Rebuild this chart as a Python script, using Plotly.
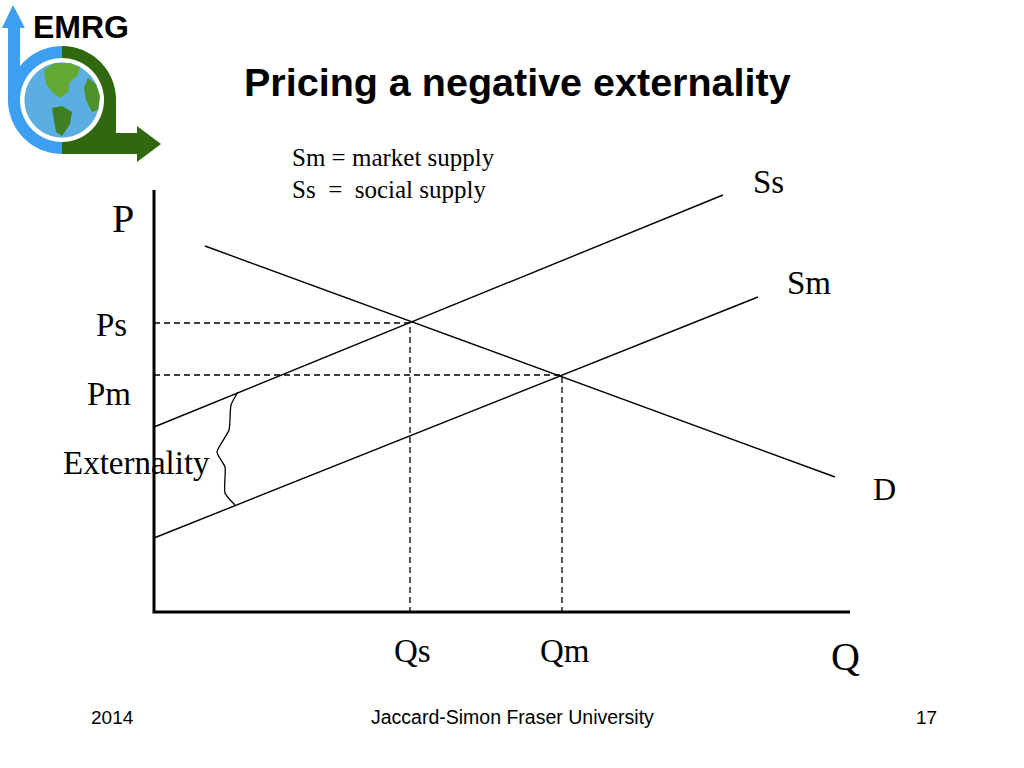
import math
import plotly.graph_objects as go

# ---------------- data (Q, P units) ----------------
axis_q = [0, 0, 696]
axis_p = [422, 0, 0]
demand_q = [51, 681]
demand_p = [366, 135]
social_q = [0, 569]
social_p = [185, 417]
market_q = [0, 604]
market_p = [74, 315]
eq_q = [256, 408]   # Qs, Qm
eq_p = [289, 237]   # Ps, Pm
brace_q = [84, 77, 75, 63, 71, 71, 81]
brace_p = [220, 207, 182, 160, 145, 119, 107]

W, H = 1024, 768
BLACK = "#000000"
BLUE = "#3d9ff0"
GREEN = "#30680f"


def px(x, y):
    return x / W, 1 - y / H


fig = go.Figure()

line_style = dict(color=BLACK, width=1.4)
fig.add_trace(go.Scatter(x=axis_q, y=axis_p, mode="lines",
                         line=dict(color=BLACK, width=3), hoverinfo="skip"))
fig.add_trace(go.Scatter(x=demand_q, y=demand_p, mode="lines", line=line_style, name="D"))
fig.add_trace(go.Scatter(x=social_q, y=social_p, mode="lines", line=line_style, name="Ss"))
fig.add_trace(go.Scatter(x=market_q, y=market_p, mode="lines", line=line_style, name="Sm"))
for q, p in zip(eq_q, eq_p):
    fig.add_trace(go.Scatter(x=[0, q, q], y=[p, p, 0], mode="lines",
                             line=dict(color=BLACK, width=1.3, dash="6px,4px"),
                             hoverinfo="skip"))
fig.add_trace(go.Scatter(x=brace_q, y=brace_p, mode="lines",
                         line=dict(color=BLACK, width=1.3, shape="spline", smoothing=0.6),
                         hoverinfo="skip"))

# ---------------- text ----------------
ann = []


def add_text(text, x, y, size, family="Liberation Serif", xanchor="center", color=BLACK):
    xp, yp = px(x, y)
    ann.append(dict(text=text, x=xp, y=yp, xref="paper", yref="paper",
                    xanchor=xanchor, yanchor="middle", showarrow=False,
                    font=dict(family=family, size=size, color=color)))


add_text("<b>Pricing a negative externality</b>", 517, 82, 39.5, family="Liberation Sans")
add_text("Sm = market supply", 290, 158, 25, xanchor="left")
add_text("Ss  =  social supply", 290, 189, 25, xanchor="left")
add_text("P", 123, 218, 40)
add_text("Ps", 111, 325, 33)
add_text("Pm", 109, 394, 33)
add_text("Externality", 136, 463, 33)
add_text("Qs", 412, 651, 33)
add_text("Qm", 565, 651, 33)
add_text("Q", 845, 656, 40)
add_text("Ss", 768, 182, 33)
add_text("Sm", 809, 283, 33)
add_text("D", 884, 489, 32)
add_text("2014", 112, 717, 19, family="Liberation Sans")
add_text("Jaccard-Simon Fraser University", 512, 717, 19.5, family="Liberation Sans")
add_text("17", 926, 717, 19, family="Liberation Sans")
add_text("<b>EMRG</b>", 81, 27, 32, family="Liberation Sans")

# ---------------- logo shapes ----------------
shapes = []


def poly(points, fill, line_color=None, width=0):
    s = ""
    for i, (x, y) in enumerate(points):
        xp, yp = px(x, y)
        s += ("M" if i == 0 else "L") + f"{xp:.5f},{yp:.5f} "
    s += "Z"
    shapes.append(dict(type="path", path=s, xref="paper", yref="paper",
                       fillcolor=fill, line=dict(color=line_color or fill, width=width),
                       layer="above"))


def arc(cx, cy, r, a0, a1, n=40):
    pts = []
    for i in range(n + 1):
        a = math.radians(a0 + (a1 - a0) * i / n)
        pts.append((cx + r * math.cos(a), cy - r * math.sin(a)))
    return pts


cx, cy, ro, ri = 62, 100, 54, 42
# blue left half ring
poly(arc(cx, cy, ro, 90, 270) + arc(cx, cy, ri, 270, 90), BLUE)
# blue shaft + arrow head
poly([(8, 27), (20, 27), (20, 100), (8, 100)], BLUE)
poly([(2, 28), (13, 5), (25, 28)], BLUE)
# green right half ring + bottom arrow
green_pts = arc(cx, cy, ro, 90, 0) + [(116, 133), (137, 133), (137, 126), (161, 144),
                                      (137, 162), (137, 154), (62, 154)] + arc(cx, cy, ri, -90, 90)
poly(green_pts, GREEN)
# globe
poly(arc(cx, cy, 39, 0, 360, 80), "#5aaee2", line_color="#ffffff", width=3)
poly([(44, 70), (55, 63), (70, 63), (80, 67), (78, 75), (70, 82), (68, 92), (60, 98),
      (52, 92), (46, 84)], "#62a832")
poly([(52, 108), (62, 106), (72, 112), (70, 124), (62, 136), (56, 132), (54, 120)], "#3f7f22")
poly([(88, 78), (96, 84), (100, 96), (98, 110), (92, 112), (86, 100), (84, 88)], "#4d9228")

fig.update_layout(
    width=W, height=H,
    margin=dict(l=0, r=0, t=0, b=0),
    paper_bgcolor="white", plot_bgcolor="white",
    showlegend=False,
    xaxis=dict(range=[-154, 870], visible=False, fixedrange=True),
    yaxis=dict(range=[-156, 612], visible=False, fixedrange=True),
    annotations=ann,
    shapes=shapes,
)

fig.write_html("out.html")
